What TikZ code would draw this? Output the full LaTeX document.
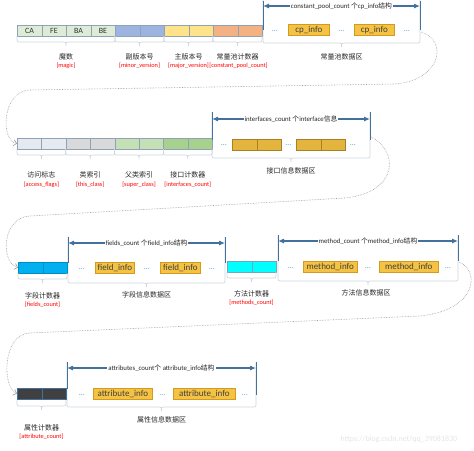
\documentclass[tikz,border=0pt]{standalone}
\usepackage{fontspec}
\setmainfont{Carlito}
\newfontfamily\cjk{Noto Sans CJK SC}
\usetikzlibrary{arrows.meta}
\definecolor{magicc}{HTML}{DDEBD7}
\definecolor{minorc}{HTML}{9DB4E0}
\definecolor{majorc}{HTML}{FFE38A}
\definecolor{poolc}{HTML}{F4B183}
\definecolor{accc}{HTML}{E6EAF0}
\definecolor{thisc}{HTML}{D9D9D9}
\definecolor{superc}{HTML}{C5E0B4}
\definecolor{ifacec}{HTML}{A9D18E}
\definecolor{fieldc}{HTML}{00B0F0}
\definecolor{methc}{HTML}{00FFFF}
\definecolor{attrc}{HTML}{404040}
\definecolor{cellborder}{HTML}{8EA2B8}
\definecolor{infofill}{HTML}{F5C343}
\definecolor{infoborder}{HTML}{D39A1E}
\definecolor{ifbox}{HTML}{E3B43E}
\definecolor{ifborder}{HTML}{A88125}
\definecolor{dimblue}{HTML}{41719C}
\definecolor{dotblue}{HTML}{5B9BD5}
\definecolor{framegray}{HTML}{D0D6DE}
\definecolor{redlab}{HTML}{FF0000}
\newcommand{\drawframe}[5]{%
 \draw[#5] ({#1},{#3}) -- ({#1},{#4-4}) .. controls ({#1},{#4}) .. ({#1+4},{#4})
 -- ({(#1+#2)/2-4},{#4}) .. controls ({(#1+#2)/2},{#4}) .. ({(#1+#2)/2},{#4+4})
 .. controls ({(#1+#2)/2},{#4}) .. ({(#1+#2)/2+4},{#4}) -- ({#2-4},{#4})
 .. controls ({#2},{#4}) .. ({#2},{#4-4}) -- ({#2},{#3});}
\tikzset{
 cell/.style={draw=cellborder, line width=0.5, minimum width=24.5, minimum height=10.5,
   inner sep=0, anchor=north west, font=\fontsize{8}{9}\selectfont, text=black!80},
 info/.style={draw=infoborder, fill=infofill, line width=0.6, minimum height=11,
   inner sep=0, anchor=north west, font=\fontsize{9}{10}\selectfont, text=black!75},
 ifcell/.style={draw=ifborder, fill=ifbox, line width=0.5, minimum width=24.5, minimum height=11,
   inner sep=0, anchor=north west},
 dots/.style={text=dotblue, font=\fontsize{8}{9}\selectfont, inner sep=0},
 cnlab/.style={font=\cjk\fontsize{7}{8}\selectfont, text=black!85, inner sep=0},
 redl/.style={font=\fontsize{6.3}{7}\selectfont, text=redlab, inner sep=0},
 dimline/.style={draw=dimblue, line width=1},
 dimarrow/.style={draw=dimblue, line width=1.1, {Latex[length=6,width=5]}-{Latex[length=6,width=5]}},
 dimlab/.style={fill=white, inner sep=1, font=\fontsize{6.8}{7}\selectfont, text=black!85},
 brc/.style={draw=framegray, line width=0.7},
 flow/.style={draw=black!40, line width=0.6, densely dotted, -{Straight Barb[length=3,width=6,line width=0.6]}},
}
\begin{document}
\begin{tikzpicture}[x=1pt,y=-1pt]
\useasboundingbox (0,0) rectangle (474,450);

% ===== Row 1 =====
\drawframe{263}{420}{0}{43}{brc}
\node[cell, fill=magicc] (m1) at (17,25) {CA};
\node[cell, fill=magicc] (m2) at (41.5,25) {FE};
\node[cell, fill=magicc] (m3) at (66,25) {BA};
\node[cell, fill=magicc] (m4) at (90.5,25) {BE};
\node[cell, fill=minorc] (n1) at (115,25) {};
\node[cell, fill=minorc] (n2) at (139.5,25) {};
\node[cell, fill=majorc] (j1) at (164,25) {};
\node[cell, fill=majorc] (j2) at (188.5,25) {};
\node[cell, fill=poolc] (p1) at (213,25) {};
\node[cell, fill=poolc] (p2) at (237.5,25) {};
\drawframe{17}{115}{36}{42}{brc}
\drawframe{115}{164}{36}{42}{brc}
\drawframe{164}{213}{36}{42}{brc}
\drawframe{213}{262}{36}{42}{brc}
\node[cnlab] (l1a) at (66,57) {魔数};
\node[redl] (l1b) at (66,66) {[magic]};
\node[cnlab] (l2a) at (139.5,57) {副版本号};
\node[redl] (l2b) at (139.5,66) {[minor\_version]};
\node[cnlab] (l3a) at (188.5,57) {主版本号};
\node[redl] (l3b) at (188.5,66) {[major\_version]};
\node[cnlab] (l4a) at (237.5,57) {常量池计数器};
\node[redl] (l4b) at (238.5,66) {[constant\_pool\_count]};
\node[cnlab] (l5a) at (341.5,57) {常量池数据区};
\coordinate (d1t) at (263,0.5); \coordinate (d1b) at (263,30);
\coordinate (d1t2) at (420,0.5); \coordinate (d1b2) at (420,30);
\draw[dimline] (d1t) -- (d1b); \draw[dimline] (d1t2) -- (d1b2);
\coordinate (a1l) at (263,6); \coordinate (a1r) at (420,6);
\draw[dimarrow] (a1l) -- node[dimlab] (t1) {constant\_pool\_count {\cjk 个}cp\_info{\cjk 结构}} (a1r);
\node[dots] (o1) at (275,31) {…};
\node[info, minimum width=41] (cp1) at (288,24) {cp\_info};
\node[dots] (o2) at (341.5,31) {…};
\node[info, minimum width=40] (cp2) at (354,24) {cp\_info};
\node[dots] (o3) at (407,31) {…};

% ===== Row 2 =====
\drawframe{212}{370}{112}{158}{brc}
\node[cell, fill=accc] (r2a) at (17,138) {};
\node[cell, fill=accc] (r2b) at (41.4,138) {};
\node[cell, fill=thisc] (r2c) at (65.8,138) {};
\node[cell, fill=thisc] (r2d) at (90.2,138) {};
\node[cell, fill=superc] (r2e) at (114.6,138) {};
\node[cell, fill=superc] (r2f) at (139,138) {};
\node[cell, fill=ifacec] (r2g) at (163.4,138) {};
\node[cell, fill=ifacec] (r2h) at (187.8,138) {};
\drawframe{17}{65.8}{149}{155}{brc}
\drawframe{65.8}{114.6}{149}{155}{brc}
\drawframe{114.6}{163.4}{149}{155}{brc}
\drawframe{163.4}{212.2}{149}{155}{brc}
\node[cnlab] (k1a) at (41.4,175) {访问标志};
\node[redl] (k1b) at (41.4,185) {[access\_flags]};
\node[cnlab] (k2a) at (90.2,175) {类索引};
\node[redl] (k2b) at (90.2,185) {[this\_class]};
\node[cnlab] (k3a) at (139,175) {父类索引};
\node[redl] (k3b) at (139,185) {[super\_class]};
\node[cnlab] (k4a) at (187.8,175) {接口计数器};
\node[redl] (k4b) at (187.8,185) {[interfaces\_count]};
\node[cnlab] (k5a) at (291,171) {接口信息数据区};
\coordinate (d2t) at (212,112); \coordinate (d2b) at (212,140);
\coordinate (d2t2) at (370,112); \coordinate (d2b2) at (370,140);
\draw[dimline] (d2t) -- (d2b); \draw[dimline] (d2t2) -- (d2b2);
\coordinate (a2l) at (212,119); \coordinate (a2r) at (370,119);
\draw[dimarrow] (a2l) -- node[dimlab] (t2) {interfaces\_count {\cjk 个}interface{\cjk 信息}} (a2r);
\node[dots] (q1) at (224,145) {…};
\node[ifcell] (i1) at (232,139) {};
\node[ifcell] (i2) at (256.5,139) {};
\node[dots] (q2) at (288.5,145) {…};
\node[ifcell] (i3) at (296,139) {};
\node[ifcell] (i4) at (320.5,139) {};
\node[dots] (q3) at (353,145) {…};

% ===== Row 3 =====
\drawframe{68}{225}{237}{283}{brc}
\drawframe{278}{458}{235}{281}{brc}
\node[cell, fill=fieldc, draw=fieldc!80!black] (r3a) at (18,262) {};
\node[cell, fill=fieldc, draw=fieldc!80!black] (r3b) at (42.5,262) {};
\drawframe{18}{67}{273}{279}{brc}
\node[cnlab] (f1a) at (42.5,296) {字段计数器};
\node[redl] (f1b) at (42.5,305) {[fields\_count]};
\node[cnlab] (f2a) at (146.5,295) {字段信息数据区};
\coordinate (d3t) at (68,237); \coordinate (d3b) at (68,263);
\coordinate (d3t2) at (225,237); \coordinate (d3b2) at (225,263);
\draw[dimline] (d3t) -- (d3b); \draw[dimline] (d3t2) -- (d3b2);
\coordinate (a3l) at (68,243); \coordinate (a3r) at (225,243);
\draw[dimarrow] (a3l) -- node[dimlab] (t3) {fields\_count {\cjk 个}field\_info{\cjk 结构}} (a3r);
\node[dots] (s1) at (82,269) {…};
\node[info, minimum width=39] (fi1) at (95,262) {field\_info};
\node[dots] (s2) at (147,269) {…};
\node[info, minimum width=40] (fi2) at (160,262) {field\_info};
\node[dots] (s3) at (212,269) {…};

\node[cell, fill=methc, draw=cyan!60!black!70] (r3c) at (227,261) {};
\node[cell, fill=methc, draw=cyan!60!black!70] (r3d) at (251.5,261) {};
\drawframe{227}{276}{272}{278}{brc}
\node[cnlab] (g1a) at (251.5,294) {方法计数器};
\node[redl] (g1b) at (251.5,303) {[methods\_count]};
\node[cnlab] (g2a) at (366,293) {方法信息数据区};
\coordinate (d4t) at (278,235); \coordinate (d4b) at (278,261);
\coordinate (d4t2) at (458,235); \coordinate (d4b2) at (458,261);
\draw[dimline] (d4t) -- (d4b); \draw[dimline] (d4t2) -- (d4b2);
\coordinate (a4l) at (278,241); \coordinate (a4r) at (458,241);
\draw[dimarrow] (a4l) -- node[dimlab] (t4) {method\_count {\cjk 个}method\_info{\cjk 结构}} (a4r);
\node[dots] (u1) at (291,268) {…};
\node[info, minimum width=54] (mi1) at (303,261) {method\_info};
\node[dots] (u2) at (368,268) {…};
\node[info, minimum width=59] (mi2) at (379,261) {method\_info};
\node[dots] (u3) at (448,268) {…};

% ===== Row 4 =====
\drawframe{67}{256}{362}{407}{brc}
\node[cell, fill=attrc, draw=dimblue] (r4a) at (17,388) {};
\node[cell, fill=attrc, draw=dimblue] (r4b) at (41.5,388) {};
\drawframe{17}{66}{400}{406}{brc}
\node[cnlab] (h1a) at (41.5,428) {属性计数器};
\node[redl] (h1b) at (41.5,437) {[attribute\_count]};
\node[cnlab] (h2a) at (161.5,420) {属性信息数据区};
\coordinate (d5t) at (67,362); \coordinate (d5b) at (67,389);
\coordinate (d5t2) at (256,362); \coordinate (d5b2) at (256,395);
\draw[dimline] (d5t) -- (d5b); \draw[dimline] (d5t2) -- (d5b2);
\coordinate (a5l) at (67,368); \coordinate (a5r) at (256,368);
\draw[dimarrow] (a5l) -- node[dimlab] (t5) {attributes\_count{\cjk 个} attribute\_info{\cjk 结构}} (a5r);
\node[dots] (v1) at (82,395) {…};
\node[info, minimum width=59] (at1) at (93,388) {attribute\_info};
\node[dots] (v2) at (162.5,395) {…};
\node[info, minimum width=62] (at2) at (173,388) {attribute\_info};
\node[dots] (v3) at (245,395) {…};

% ===== flow connectors =====
\coordinate (c1) at (421,32);
\draw[flow] (c1) .. controls (448,40) and (442,80) .. (395,84) -- (30,90)
  .. controls (2,91) and (0,140) .. (r2a.west);
\coordinate (c2) at (371,137);
\draw[flow] (c2) .. controls (398,150) and (400,192) .. (345,198) -- (30,216)
  .. controls (2,217) and (0,262) .. (r3a.west);
\coordinate (c3) at (459,262);
\draw[flow] (c3) .. controls (480,270) and (478,310) .. (420,316) -- (30,333)
  .. controls (2,334) and (2,388) .. (r4a.west);

% watermark
\node[text=black!10, font=\fontsize{8}{9}\selectfont, inner sep=0] (wm) at (399,439) {https://blog.csdn.net/qq\_39081830};
\end{tikzpicture}
\end{document}
